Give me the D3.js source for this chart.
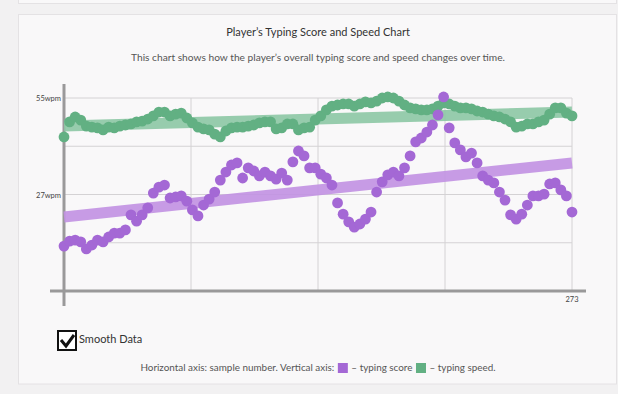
<!DOCTYPE html>
<html>
<head>
<meta charset="utf-8">
<script src="https://cdn.jsdelivr.net/npm/d3@7"></script>
<style>
  html, body { margin: 0; padding: 0; background: #f2f1f2; }
  svg { display: block; font-family: Lato, "Noto Sans", sans-serif; }
</style>
</head>
<body>
<svg id="chart" width="618" height="394"></svg>
<script>
// Sample numbers are every third sample, 0..273
const sampleStep = 3
const sampleMax = 273

// typing speed (wpm)
const speed = [
  43.9, 48.2, 49.6, 48.7, 47.0, 46.7, 46.5, 45.9, 46.7, 46.5,
  47.0, 47.3, 47.6, 48.2, 48.4, 49.0, 49.9, 51.0, 51.0, 49.9,
  50.4, 50.7, 49.3, 47.9, 46.7, 46.2, 45.9, 44.7, 43.9, 45.6,
  46.5, 46.7, 46.7, 47.0, 47.3, 47.9, 48.2, 48.2, 46.2, 46.5,
  47.6, 47.6, 45.9, 46.5, 46.7, 48.7, 49.9, 51.6, 52.7, 53.0,
  53.3, 53.3, 52.7, 53.3, 53.9, 53.6, 54.1, 55.0, 55.3, 55.0,
  54.1, 53.0, 52.2, 51.9, 51.6, 51.6, 51.9, 52.7, 53.6, 53.3,
  52.7, 52.2, 52.2, 51.9, 51.3, 51.0, 50.4, 49.9, 49.6, 49.0,
  48.2, 46.7, 47.0, 47.6, 47.6, 48.2, 48.7, 50.4, 52.2, 52.2,
  50.7, 49.9
]

// typing score (wpm)
const score = [
  12.8, 14.2, 14.5, 14.0, 12.0, 13.1, 14.5, 14.0, 15.4, 16.5,
  16.5, 17.4, 21.7, 19.9, 21.7, 23.7, 27.9, 29.6, 30.2, 26.5,
  26.8, 27.1, 25.6, 23.1, 21.4, 24.5, 26.2, 28.2, 31.6, 33.9,
  35.9, 36.5, 32.2, 35.1, 34.2, 32.8, 33.9, 32.8, 31.9, 33.6,
  31.6, 36.8, 39.9, 38.5, 35.1, 35.1, 33.3, 32.2, 30.2, 25.1,
  21.9, 19.7, 18.2, 19.1, 20.5, 22.5, 28.2, 31.1, 33.1, 33.9,
  32.8, 35.1, 38.5, 42.5, 43.6, 45.3, 47.3, 50.2, 55.3, 46.5,
  42.2, 40.2, 38.2, 39.3, 36.5, 32.8, 31.6, 30.8, 28.2, 25.9,
  21.7, 20.5, 21.9, 24.5, 27.1, 27.1, 27.6, 30.5, 30.8, 28.8,
  27.1, 22.5
]

// smoothed trend lines: value at first and last sample
const speedTrend = [47.0, 51.0]
const scoreTrend = [21.1, 36.5]

const yMax = 55
const yTickVals = [27.5, 55]
const yTickLabels = ['27wpm', '55wpm']

const colors = { score: '#a468d5', speed: '#62b083', scoreTrend: '#c292e3', speedTrend: '#8dc8a5' }

const svg = d3.select('#chart')
const midX = 318

// cards
svg.append('rect').attr('x', 18.5).attr('y', -20).attr('width', 598).attr('height', 23.5)
  .attr('fill', '#f9f8f9').attr('stroke', '#e4e2e4')
svg.append('rect').attr('x', 18.5).attr('y', 14.5).attr('width', 598).attr('height', 369.5)
  .attr('fill', '#f9f8f9').attr('stroke', '#e4e2e4')

svg.append('text').attr('x', midX).attr('y', 36).attr('text-anchor', 'middle')
  .attr('font-size', 11).attr('fill', '#333')
  .text('Player\u2019s Typing Score and Speed Chart')
svg.append('text').attr('x', midX).attr('y', 61).attr('text-anchor', 'middle')
  .attr('font-size', 10.2).attr('fill', '#555')
  .text('This chart shows how the player\u2019s overall typing score and speed changes over time.')

const m = { left: 64, right: 572, top: 98, bottom: 291 }
const x = d3.scaleLinear().domain([0, sampleMax]).range([m.left, m.right])
const y = d3.scaleLinear().domain([0, yMax]).range([m.bottom, m.top])

const g = svg.append('g')

// grid
g.append('g').selectAll('line').data([yMax / 4, yMax / 2, yMax * 3 / 4, yMax]).join('line')
  .attr('x1', m.left).attr('x2', m.right)
  .attr('y1', d => y(d)).attr('y2', d => y(d))
  .attr('stroke', '#d4d2d4').attr('stroke-width', 1)
g.append('g').selectAll('line').data([1, 2, 3, 4].map(i => sampleMax * i / 4)).join('line')
  .attr('x1', d => x(d)).attr('x2', d => x(d))
  .attr('y1', m.top).attr('y2', m.bottom)
  .attr('stroke', '#d4d2d4').attr('stroke-width', 1)

// axes
g.append('line').attr('x1', m.left).attr('x2', m.left).attr('y1', 84).attr('y2', 306)
  .attr('stroke', '#9a999a').attr('stroke-width', 3)
g.append('line').attr('x1', 50).attr('x2', 586).attr('y1', m.bottom).attr('y2', m.bottom)
  .attr('stroke', '#9a999a').attr('stroke-width', 3)

g.append('g').selectAll('text').data(yTickVals).join('text')
  .attr('x', m.left - 3).attr('y', d => y(d) + 3)
  .attr('text-anchor', 'end').attr('font-size', 7.5).attr('fill', '#444')
  .text((d, i) => yTickLabels[i])
g.append('text').attr('x', x(sampleMax)).attr('y', 302).attr('text-anchor', 'middle')
  .attr('font-size', 7.5).attr('fill', '#444').text(sampleMax)

// trend bands
const trend = (vals, color) => g.append('line')
  .attr('x1', x(0)).attr('x2', x(sampleMax))
  .attr('y1', y(vals[0])).attr('y2', y(vals[1]))
  .attr('stroke', color).attr('stroke-width', 11).attr('opacity', 0.9)
trend(speedTrend, colors.speedTrend)
trend(scoreTrend, colors.scoreTrend)

// dots
const dots = (vals, color) => g.append('g').selectAll('circle').data(vals).join('circle')
  .attr('cx', (d, i) => x(i * sampleStep)).attr('cy', d => y(d))
  .attr('r', 5.4).attr('fill', color)
dots(speed, colors.speed)
dots(score, colors.score)

// checkbox
const cb = svg.append('g')
cb.append('rect').attr('x', 58).attr('y', 331).attr('width', 18).attr('height', 19)
  .attr('fill', '#fff').attr('stroke', '#111').attr('stroke-width', 2)
cb.append('path').attr('d', 'M61,340 L66,346 L74,335')
  .attr('fill', 'none').attr('stroke', '#111').attr('stroke-width', 3)
cb.append('text').attr('x', 79).attr('y', 343).attr('font-size', 11).attr('fill', '#333')
  .text('Smooth Data')

// footer legend
const foot = svg.append('g').attr('font-size', 9.9).attr('fill', '#555')
const parts = [
  { t: 'Horizontal axis: sample number. Vertical axis: ' },
  { sw: colors.score },
  { t: ' \u2013 typing score ' },
  { sw: colors.speed },
  { t: ' \u2013 typing speed.' }
]
let cx = 0
const items = []
parts.forEach(p => {
  if (p.t) {
    const tx = foot.append('text').attr('y', 371).attr('xml:space', 'preserve').text(p.t)
    const w = tx.node().getComputedTextLength()
    items.push({ el: tx, x: cx }); cx += w
  } else {
    const r = foot.append('rect').attr('y', 363).attr('width', 10).attr('height', 10).attr('fill', p.sw)
    items.push({ el: r, x: cx + 1 }); cx += 12
  }
})
const x0 = midX - cx / 2
items.forEach(it => it.el.attr('x', x0 + it.x))
</script>
</body>
</html>
